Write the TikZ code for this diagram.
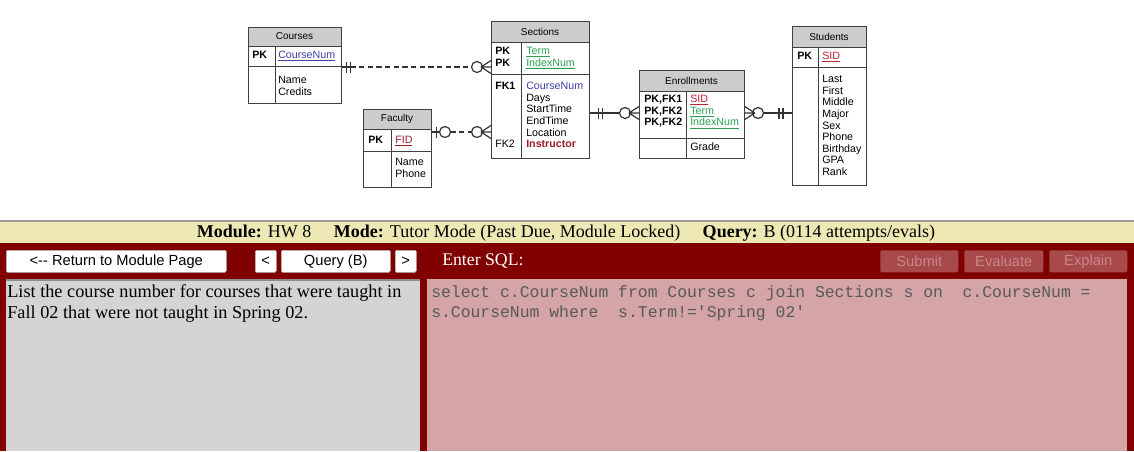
\documentclass[tikz,border=0pt]{standalone}
\usepackage{fontspec}
\setmainfont{Liberation Serif}
\newfontfamily\dsans{Liberation Sans}
\newfontfamily\dmono{Liberation Mono}
\begin{document}
\begin{tikzpicture}[x=0.75pt,y=-0.75pt,
  tbl/.style={draw=black!75,line width=0.6pt,inner sep=0,anchor=north west},
  hdr/.style={fill=black!20,draw=black!75,line width=0.6pt},
  ln/.style={draw=black!75,line width=0.6pt},
  t/.style={font=\dsans\fontsize{8}{8.7}\selectfont,anchor=north west,inner sep=0,align=left},
  tb/.style={t,font=\dsans\bfseries\fontsize{8}{8.7}\selectfont},
  th/.style={font=\dsans\fontsize{7.5}{8}\selectfont,inner sep=0},
  rel/.style={line width=0.9pt,black!80},
  btn/.style={draw=black!30,fill=white,rounded corners=1pt,font=\dsans\fontsize{11}{12}\selectfont,inner sep=0,minimum height=16.5pt,anchor=north west},
  fbtn/.style={fill=fadebtn,rounded corners=1pt,text=fadetxt,font=\dsans\fontsize{11}{12}\selectfont,minimum height=16.5pt,anchor=north west,inner sep=0}]
\definecolor{maroon}{HTML}{800000}
\definecolor{barbg}{HTML}{EEE8B4}
\definecolor{ubl}{HTML}{4040A8}
\definecolor{ugr}{HTML}{2AA050}
\definecolor{ured}{HTML}{C02030}
\definecolor{fadebtn}{HTML}{A84A4C}
\definecolor{fadetxt}{HTML}{C88888}
\definecolor{pinkta}{HTML}{D4A4A7}
\useasboundingbox (0,0) rectangle (1134,451);
\fill[white] (0,0) rectangle (1134,220);
\fill[black!40] (0,220) rectangle (1134,222);
\fill[barbg] (0,222) rectangle (1134,243);
\fill[maroon] (0,243) rectangle (1134,451);
% Courses
\fill[hdr] (248,27) rectangle (341,46);
\node[tbl,minimum width=69.75pt,minimum height=57pt] (courses) at (248,27) {};
\node[th] at (294.5,36.5) {Courses};
\draw[ln] (248,46)--(341,46) (248,66)--(341,66) (275,46)--(275,103);
\node[tb] at (252,51) {PK};
\node[t,text=ubl] (cnum) at (278,51) {\underline{CourseNum}};
\node[t] at (278,76) {Name\\Credits};
% Sections
\fill[hdr] (491,21) rectangle (589,42);
\node[tbl,minimum width=73.5pt,minimum height=102.75pt] (sections) at (491,21) {};
\node[th] at (540,31.5) {Sections};
\draw[ln] (491,42)--(589,42) (491,74)--(589,74) (521,42)--(521,158);
\node[tb] at (495,47) {PK\\PK};
\node[t,text=ugr] at (526,47) {\underline{Term}\\\underline{IndexNum}};
\node[tb] at (495,82) {FK1};
\node[t] at (495,140) {FK2};
\node[t] at (526,82) {\textcolor{ubl}{CourseNum}\\Days\\StartTime\\EndTime\\Location\\\textcolor{ured!80!black}{\bfseries Instructor}};
% Faculty
\fill[hdr] (363,109) rectangle (431,129);
\node[tbl,minimum width=51pt,minimum height=58.5pt] (faculty) at (363,109) {};
\node[th] at (397,119) {Faculty};
\draw[ln] (363,129)--(431,129) (363,151)--(431,151) (391,129)--(391,187);
\node[tb] at (368,136) {PK};
\node[t,text=ured!80!black] at (395,136) {\underline{FID}};
\node[t] at (395,158) {Name\\Phone};
% Enrollments
\fill[hdr] (639,70) rectangle (744,91);
\node[tbl,minimum width=78.75pt,minimum height=66pt] (enroll) at (639,70) {};
\node[th] at (691.5,80.5) {Enrollments};
\draw[ln] (639,91)--(744,91) (639,138)--(744,138) (686,91)--(686,158);
\node[tb] at (644,95) {PK,FK1\\PK,FK2\\PK,FK2};
\node[t] at (690,95) {\textcolor{ured}{\underline{SID}}\\\textcolor{ugr}{\underline{Term}}\\\textcolor{ugr}{\underline{IndexNum}}};
\node[t] at (690,142) {Grade};
% Students
\fill[hdr] (792,26) rectangle (866,47);
\node[tbl,minimum width=55.5pt,minimum height=119.25pt] (students) at (792,26) {};
\node[th] at (829,36.5) {Students};
\draw[ln] (792,47)--(866,47) (792,67)--(866,67) (818,47)--(818,185);
\node[tb] at (797,52) {PK};
\node[t,text=ured] at (822,52) {\underline{SID}};
\node[t] at (822,75) {Last\\First\\Middle\\Major\\Sex\\Phone\\Birthday\\GPA\\Rank};
% connectors
\coordinate (c1) at (courses.east |- 0,67);
\coordinate (s1) at (sections.west |- 0,67);
\coordinate (f1) at (faculty.east |- 0,132);
\coordinate (s2) at (sections.west |- 0,132);
\coordinate (s3) at (sections.east |- 0,113);
\coordinate (e1) at (enroll.west |- 0,113);
\coordinate (e2) at (enroll.east |- 0,113);
\coordinate (st1) at (students.west |- 0,113);
\coordinate (s1c) at (477,67);
\coordinate (s2c) at (477,132);
\coordinate (f1c) at (445,132);
\coordinate (e1c) at (625,113);
\coordinate (e2c) at (758,113);
% Courses - Sections
\draw[rel,dash pattern=on 4pt off 2.5pt] (c1) -- ([xshift=-4.1pt]s1c);
\draw[rel] (c1) -- ++(8,0);
\draw[rel] (c1) ++(5,-5.5) -- ++(0,11) (c1) ++(9,-5.5) -- ++(0,11);
\draw[rel] (s1c) circle (5.5);
\draw[rel] (s1) ++(-10,0) -- ++(10,0) (s1) ++(-10,0) -- ++(10,-6.5) (s1) ++(-10,0) -- ++(10,6.5);
% Faculty - Sections
\draw[rel] (f1) -- ([xshift=-4.1pt]f1c);
\draw[rel] (f1) ++(5,-5.5) -- ++(0,11);
\draw[rel] (f1c) circle (5.5);
\draw[rel,dash pattern=on 4pt off 2.5pt] ([xshift=4.1pt]f1c) -- ([xshift=-4.1pt]s2c);
\draw[rel] (s2c) circle (5.5);
\draw[rel] (s2) ++(-10,0) -- ++(10,0) (s2) ++(-10,0) -- ++(10,-6.5) (s2) ++(-10,0) -- ++(10,6.5);
% Sections - Enrollments
\draw[rel] (s3) -- ([xshift=-4.1pt]e1c);
\draw[rel] (s3) ++(9,-5.5) -- ++(0,11) (s3) ++(13,-5.5) -- ++(0,11);
\draw[rel] (e1c) circle (5.5);
\draw[rel] (e1) ++(-10,0) -- ++(10,0) (e1) ++(-10,0) -- ++(10,-6.5) (e1) ++(-10,0) -- ++(10,6.5);
% Enrollments - Students
\draw[rel] (e2) ++(10,0) -- ++(-10,0) (e2) ++(10,0) -- ++(-10,-6.5) (e2) ++(10,0) -- ++(-10,6.5);
\draw[rel] (e2c) circle (5.5);
\draw[rel] ([xshift=4.1pt]e2c) -- (st1);
\draw[rel] (st1) ++(-9,-5.5) -- ++(0,11) (st1) ++(-13,-5.5) -- ++(0,11);
% info bar
\node[font=\fontsize{13.5}{15}\selectfont] (bar) at (566,233) {\textbf{Module:} HW 8\quad\ \textbf{Mode:} Tutor Mode (Past Due, Module Locked)\quad\ \textbf{Query:} B (0114 attempts/evals)};
% buttons
\node[btn,minimum width=165pt] (ret) at (6,250) {<-- Return to Module Page};
\node[btn,minimum width=15.75pt] (prev) at (255,250) {<};
\node[btn,minimum width=81.75pt] (qb) at (281,250) {Query (B)};
\node[btn,minimum width=15.75pt] (next) at (395,250) {>};
\node[anchor=west,text=white,inner sep=0,font=\fontsize{13.3}{14}\selectfont] (sqlh) at (442,261) {Enter SQL:};
\node[fbtn,minimum width=58.5pt] (sub) at (880,250) {Submit};
\node[fbtn,minimum width=59.25pt] (ev) at (964,250) {Evaluate};
\node[fbtn,minimum width=58.5pt] (ex) at (1049,250) {Explain};
% text areas
\fill[black!17] (6,279) rectangle (420,451);
\draw[black!45,line width=1.5pt] (6,280)--(420,280);
\node[anchor=north west,inner sep=0,align=left,font=\fontsize{13.7}{16}\selectfont] (q) at (7,284) {List the course number for courses that were taught in\\Fall 02 that were not taught in Spring 02.};
\fill[pinkta] (427,279) rectangle (1127,451);
\node[anchor=north west,inner sep=0,align=left,text=black!65,font=\dmono\fontsize{12.3}{15}\selectfont] (sql) at (431,285) {select c.CourseNum from Courses c join Sections s on\ \ c.CourseNum =\\s.CourseNum where\ \ s.Term!='Spring 02'};
\end{tikzpicture}
\end{document}
